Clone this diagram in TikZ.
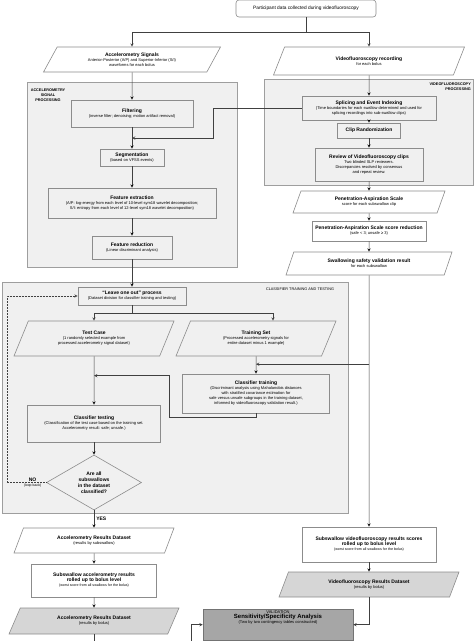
\documentclass[tikz,border=0pt]{standalone}
\usepackage{fontspec}
\setmainfont{Liberation Sans}
\usetikzlibrary{shapes.geometric,positioning,calc}

\newcommand{\boxhead}[1]{{\fontsize{5}{6}\selectfont\bfseries #1}}

\tikzset{
  conn/.style={draw=black!75, line width=0.5pt},
  proc/.style={draw=black!45, fill=black!6, line width=0.6pt, align=center,
    font=\fontsize{4}{5}\selectfont, inner sep=1pt},
  plain/.style={proc, fill=white},
  data/.style={trapezium, trapezium left angle=45, trapezium right angle=135,
    trapezium stretches body, draw=black!45, fill=white, line width=0.6pt,
    align=center, font=\fontsize{4}{5}\selectfont, inner sep=0pt},
  dataset/.style={data, fill=black!16},
  decision/.style={diamond, draw=black!45, fill=black!6, line width=0.6pt, align=center,
    font=\fontsize{5}{6}\selectfont\bfseries, inner sep=0pt},
  final/.style={proc, fill=black!35, draw=black!55},
  group/.style={draw=black!38, fill=black!6, line width=0.6pt},
  grouplabel/.style={font=\fontsize{3.8}{4.8}\selectfont\bfseries, align=center, inner sep=0pt}
}

\begin{document}
\begin{tikzpicture}[x=1pt, y=-1pt, on grid, >=stealth]
    \useasboundingbox (0,0) rectangle (474,641);

    % processing areas
    \draw[group] (27,82) rectangle (237,267);
    \draw[group] (264,79) rectangle (473.5,185);
    \draw[group] (2,282) rectangle (348,513);
    \node[grouplabel] (acclab) at (48,95) {ACCELEROMETRY\\SIGNAL\\PROCESSING};
    \node[grouplabel, align=right, anchor=north east] (vflab) at (471,83) {VIDEOFLUOROSCOPY\\PROCESSING};
    \node[grouplabel, font=\fontsize{3.8}{4.8}\selectfont] (clslab) at (300,289) {CLASSIFIER TRAINING AND TESTING};

    % sources
    \node[plain, rounded corners=3pt, minimum width=140pt, minimum height=17pt] (start) at (306,8.5)
        {\fontsize{4.8}{5}\selectfont Participant data collected during videofluoroscopy};
    \node[data, minimum width=177pt, minimum height=25pt] (accsig) [below left=51pt and 174pt of start]
        {\boxhead{Accelerometry Signals}\\Anterior-Posterior (A/P) and Superior-Inferior (S/I)\\waveforms for each bolus};
    \node[data, trapezium left angle=38, trapezium right angle=142, minimum width=191pt, minimum height=28pt] (vfrec) [below right=52.5pt and 63pt of start]
        {\boxhead{Videofluoroscopy recording}\\for each bolus};

    % accelerometry column
    \node[proc, minimum width=122pt, minimum height=27pt] (filt) [below=54pt of accsig]
        {\boxhead{Filtering}\\(inverse filter; denoising; motion artifact removal)};
    \node[proc, minimum width=64pt, minimum height=17pt] (seg) [below=44pt of filt]
        {\boxhead{Segmentation}\\(based on VFSS events)};
    \node[proc, minimum width=168pt, minimum height=30pt] (featx) [below=45.5pt of seg]
        {\boxhead{Feature extraction}\\(A/P: log-energy from each level of 10-level sym18 wavelet decomposition;\\S/I: entropy from each level of 12-level sym18 wavelet decomposition)};
    \node[proc, minimum width=80pt, minimum height=23pt] (featr) [below=44.5pt of featx]
        {\boxhead{Feature reduction}\\(Linear discriminant analysis)};

    % videofluoroscopy column
    \node[proc, minimum width=134pt, minimum height=24pt] (splice) [below=47pt of vfrec]
        {\boxhead{Splicing and Event Indexing}\\(Time boundaries for each swallow determined and used for\\splicing recordings into sub-swallow clips)};
    \node[proc, minimum width=63pt, minimum height=15pt] (clip) [below=22.5pt of splice]
        {\boxhead{Clip Randomization}};
    \node[proc, minimum width=108pt, minimum height=33pt] (review) [below=34pt of clip]
        {\boxhead{Review of Videofluoroscopy clips}\\Two blinded SLP reviewers.\\Discrepancies resolved by consensus\\and repeat review.};
    \node[data, trapezium left angle=50, trapezium right angle=130, minimum width=152pt, minimum height=22pt] (pas) [below=37.5pt of review]
        {\boxhead{Penetration-Aspiration Scale}\\score for each subswallow clip};
    \node[plain, minimum width=114pt, minimum height=20pt] (pasr) [below=29pt of pas]
        {\boxhead{Penetration-Aspiration Scale score reduction}\\(safe < 3; unsafe ≥ 3)};
    \node[data, trapezium left angle=48, trapezium right angle=132, minimum width=166pt, minimum height=23pt] (swal) [below=32.5pt of pasr]
        {\boxhead{Swallowing safety validation result}\\for each subswallow};

    % classifier
    \node[proc, minimum width=108pt, minimum height=18pt] (loo) [below=48.5pt of featr]
        {\boxhead{“Leave one out” process}\\(Dataset division for classifier training and testing)};
    \node[data, fill=black!6, minimum width=160pt, minimum height=35pt] (test) [below left=42.5pt and 38pt of loo]
        {\boxhead{Test Case}\\(1 randomly selected example from\\processed accelerometry signal dataset)};
    \node[data, fill=black!6, minimum width=160pt, minimum height=35pt] (train) [below right=42.5pt and 124pt of loo]
        {\boxhead{Training Set}\\(Processed accelerometry signals for\\entire dataset minus 1 example)};
    \node[proc, minimum width=147pt, minimum height=39pt] (cltrain) [below=55pt of train]
        {\boxhead{Classifier training}\\(Discriminant analysis using Mahalanobis distances\\with stratified covariance estimation for\\safe versus unsafe subgroups in the training dataset,\\informed by videofluoroscopy validation result.)};
    \node[proc, minimum width=133pt, minimum height=37pt] (cltest) [below=85pt of test]
        {\boxhead{Classifier testing}\\(Classification of the test case based on the training set.\\Accelerometry result: safe; unsafe.)};
    \node[decision, minimum width=95pt, minimum height=55pt] (decide) [below=59pt of cltest]
        {Are all\\subswallows\\in the dataset\\classified?};

    % results
    \node[data, minimum width=160pt, minimum height=25pt] (accres1) [below=58pt of decide]
        {\boxhead{Accelerometry Results Dataset}\\(results by subswallow)};
    \node[plain, minimum width=125pt, minimum height=33pt] (accroll) [below=40pt of accres1]
        {\boxhead{Subswallow accelerometry results}\\\boxhead{rolled up to bolus level}\\{\fontsize{3.6}{4.5}\selectfont(worst score from all swallows for the bolus)}};
    \node[dataset, trapezium left angle=40, trapezium right angle=140, minimum width=170pt, minimum height=26pt] (accres2) [below=40.5pt of accroll]
        {\boxhead{Accelerometry Results Dataset}\\(results by bolus)};
    \node[plain, minimum width=134pt, minimum height=35pt] (vfroll) [below=281pt of swal]
        {\boxhead{Subswallow videofluoroscopy results scores}\\\boxhead{rolled up to bolus level}\\{\fontsize{3.6}{4.5}\selectfont(worst score from all swallows for the bolus)}};
    \node[dataset, minimum width=180pt, minimum height=25pt] (vfres) [below=40pt of vfroll]
        {\boxhead{Videofluoroscopy Results Dataset}\\(results by bolus)};
    \node[final, minimum width=150pt, text depth=16pt, anchor=north] (valid) at (278,609)
        {VALIDATION\\{\fontsize{6}{7}\selectfont\bfseries Sensitivity/Specificity Analysis}\\(Two by two contingency tables constructed)};

    \coordinate (fjoin) at ($(filt.south)!0.5!(seg.north)$);
    \coordinate (rjoin) at ($(train.south)!0.45!(cltrain.north)$);
    \coordinate (tjoin) at ($(test.south)!0.4!(cltest.north)$);
    \coordinate (accout) at ($(accres2.south)+(0,20)$);
    \coordinate (valin) at ($(valid.west)+(-11,20)$);

    \path[->, conn]
    (accsig) edge (filt)
    (filt) edge (seg)
    (seg) edge (featx)
    (featx) edge (featr)
    (featr) edge (loo)
    (vfrec) edge (splice)
    (splice) edge (clip)
    (clip) edge (review)
    (review) edge (pas)
    (pas) edge (pasr)
    (pasr) edge (swal)
    (swal) edge (vfroll)
    (train) edge (cltrain)
    (test) edge (cltest)
    (cltest) edge (decide)
    (decide) edge node[right, pos=0.5, inner sep=2pt] {\boxhead{YES}} (accres1)
    (accres1) edge (accroll)
    (accroll) edge (accres2)
    (vfroll) edge (vfres);

    \draw[->, conn] (start.south) -- ++(0,15) -| (accsig.north);
    \draw[->, conn] (start.south) -- ++(0,15) -| (vfrec.north);
    \draw[->, conn] (splice.west) -- ++(-88,0) |- (fjoin);
    \draw[conn] (loo.south) -- ++(0,8) coordinate (split);
    \draw[->, conn] (split) -| (test.north);
    \draw[->, conn] (split) -| ($(train.north)+(17,0)$);
    \draw[->, conn] (swal.south |- rjoin) -- (rjoin);
    \draw[->, conn] (cltrain.south) -- ++(0,4) -| ($(tjoin)+(75,0)$) -- (tjoin);
    \draw[->, conn, densely dotted] (decide.west)
        -- node[above, pos=0.35, inner sep=1pt] {\boxhead{NO}}
           node[below, pos=0.35, inner sep=1pt, font=\fontsize{3.5}{4}\selectfont] {(loop back)} ++(-39,0)
        |- (loo.west);
    \draw[conn] (accres2.south) -- (accout);
    \draw[->, conn] (valin) |- (valid.west);
    \draw[->, conn] (vfres.south) |- (valid.east);
\end{tikzpicture}
\end{document}
